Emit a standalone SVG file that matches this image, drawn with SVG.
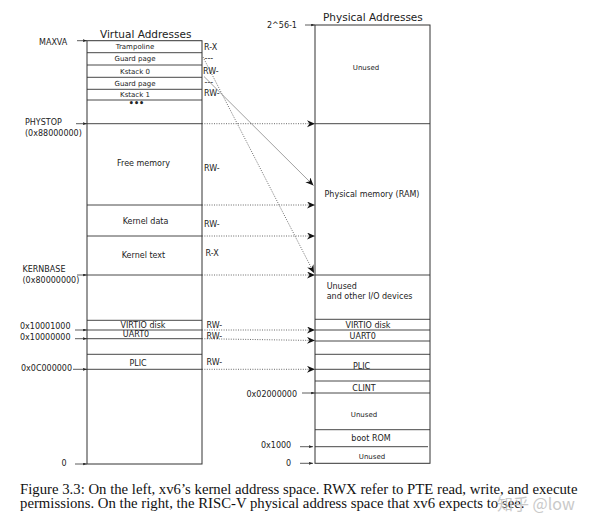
<svg xmlns="http://www.w3.org/2000/svg" width="600" height="528" viewBox="0 0 600 528">
<style>
.box{fill:#fff;stroke:#333;stroke-width:1}
.ln{stroke:#333;stroke-width:0.9}
.t{font-family:"DejaVu Sans",Verdana,sans-serif;fill:#222}
.s7{font-size:7px}
.s8{font-size:8px}
.ttl{font-size:10.5px}
.c{text-anchor:middle}
.dot{fill:none;stroke:#444;stroke-width:0.8;stroke-dasharray:1 1.4}
.lab{fill:none;stroke:#333;stroke-width:0.8}
.cap{font-family:"Liberation Serif","Times New Roman",serif;font-size:14.75px;fill:#111}
</style>
<defs>
<marker id="ah" markerWidth="9" markerHeight="8" refX="8" refY="3.5" orient="auto" markerUnits="userSpaceOnUse">
<path d="M0,0 L8,3.5 L0,7 L2.5,3.5 z" fill="#111"/>
</marker>
<marker id="sa" markerWidth="5" markerHeight="4" refX="4.5" refY="1.5" orient="auto" markerUnits="userSpaceOnUse">
<path d="M0,0 L4.5,1.5 L0,3 L1,1.5 z" fill="#222"/>
</marker>
</defs>

<g id="titles">
<text class="t ttl" x="100" y="38">Virtual Addresses</text>
<text class="t ttl" x="323" y="21">Physical Addresses</text>
</g>

<g id="virtual">
<rect class="box" x="87" y="40.7" width="115" height="423.3"/>
<line class="ln" x1="87" y1="52.7" x2="202" y2="52.7"/>
<line class="ln" x1="87" y1="65" x2="202" y2="65"/>
<line class="ln" x1="87" y1="77.3" x2="202" y2="77.3"/>
<line class="ln" x1="87" y1="89.3" x2="202" y2="89.3"/>
<line class="ln" x1="87" y1="100" x2="202" y2="100"/>
<line class="ln" x1="87" y1="123.7" x2="202" y2="123.7"/>
<line class="ln" x1="87" y1="205" x2="202" y2="205"/>
<line class="ln" x1="87" y1="236" x2="202" y2="236"/>
<line class="ln" x1="87" y1="275" x2="202" y2="275"/>
<line class="ln" x1="87" y1="320.3" x2="202" y2="320.3"/>
<line class="ln" x1="87" y1="330" x2="202" y2="330"/>
<line class="ln" x1="87" y1="338.7" x2="202" y2="338.7"/>
<line class="ln" x1="87" y1="354.3" x2="202" y2="354.3"/>
<line class="ln" x1="87" y1="369.3" x2="202" y2="369.3"/>
<text class="t s7 c" x="135" y="49.3">Trampoline</text>
<text class="t s7 c" x="135" y="61.4">Guard page</text>
<text class="t s7 c" x="135" y="73.6">Kstack 0</text>
<text class="t s7 c" x="135" y="85.8">Guard page</text>
<text class="t s7 c" x="135" y="97.3">Kstack 1</text>
<text class="t c" x="136.5" y="106" style="font-size:8px;font-weight:bold">•••</text>
<text class="t s8 c" x="143.5" y="166">Free memory</text>
<text class="t s8 c" x="145.5" y="224">Kernel data</text>
<text class="t s8 c" x="143.5" y="258">Kernel text</text>
<text class="t s8 c" x="143" y="328">VIRTIO disk</text>
<text class="t s8 c" x="136" y="337">UART0</text>
<text class="t s8 c" x="138" y="366">PLIC</text>
<text class="t s8" x="204" y="50">R-X</text>
<text class="t s8" x="204.5" y="61">---</text>
<text class="t s8" x="203" y="73.5">RW-</text>
<text class="t s8" x="204.5" y="85">---</text>
<text class="t s8" x="204" y="96">RW-</text>
<text class="t s8" x="204" y="171">RW-</text>
<text class="t s8" x="204" y="227">RW-</text>
<text class="t s8" x="205.5" y="256">R-X</text>
<text class="t s8" x="206.5" y="328">RW-</text>
<text class="t s8" x="206.5" y="339">RW-</text>
<text class="t s8" x="206.5" y="365">RW-</text>
</g>

<g id="virtual-labels">
<text class="t s8" x="39" y="44.5">MAXVA</text>
<text class="t s8" x="25" y="124.5">PHYSTOP</text>
<text class="t s8" x="25" y="135.5">(0x88000000)</text>
<text class="t s8" x="22.5" y="272">KERNBASE</text>
<text class="t s8" x="22.5" y="282.5">(0x80000000)</text>
<text class="t s8" x="20" y="329">0x10001000</text>
<text class="t s8" x="20" y="340">0x10000000</text>
<text class="t s8" x="21" y="371">0x0C000000</text>
<text class="t s8" x="61.5" y="466">0</text>
<line class="lab" x1="77" y1="40.7" x2="87" y2="40.7" marker-end="url(#sa)"/>
<line class="lab" x1="76" y1="123.7" x2="87" y2="123.7" marker-end="url(#sa)"/>
<line class="lab" x1="77" y1="275" x2="87" y2="275" marker-end="url(#sa)"/>
<line class="lab" x1="75" y1="330" x2="87" y2="330" marker-end="url(#sa)"/>
<line class="lab" x1="75" y1="338.7" x2="87" y2="338.7" marker-end="url(#sa)"/>
<line class="lab" x1="73" y1="369.3" x2="87" y2="369.3" marker-end="url(#sa)"/>
<line class="lab" x1="75" y1="464" x2="87" y2="464" marker-end="url(#sa)"/>
</g>

<g id="physical">
<rect class="box" x="315" y="25" width="115" height="438.3"/>
<line class="ln" x1="315" y1="123.7" x2="430" y2="123.7"/>
<line class="ln" x1="315" y1="275" x2="430" y2="275"/>
<line class="ln" x1="315" y1="319.3" x2="430" y2="319.3"/>
<line class="ln" x1="315" y1="330" x2="430" y2="330"/>
<line class="ln" x1="315" y1="341" x2="430" y2="341"/>
<line class="ln" x1="315" y1="354.3" x2="430" y2="354.3"/>
<line class="ln" x1="315" y1="369.3" x2="430" y2="369.3"/>
<line class="ln" x1="315" y1="381" x2="430" y2="381"/>
<line class="ln" x1="315" y1="393" x2="430" y2="393"/>
<line class="ln" x1="315" y1="429.7" x2="430" y2="429.7"/>
<line class="ln" x1="315" y1="446.7" x2="428" y2="446.7"/>
<text class="t s7 c" x="366" y="70">Unused</text>
<text class="t s8 c" x="372" y="197">Physical memory (RAM)</text>
<text class="t s8" x="326.7" y="288.5">Unused</text>
<text class="t s8" x="326.7" y="298.5">and other I/O devices</text>
<text class="t s8 c" x="368" y="328">VIRTIO disk</text>
<text class="t s8 c" x="362.7" y="339">UART0</text>
<text class="t s8 c" x="361.5" y="368.5">PLIC</text>
<text class="t s8 c" x="364" y="390.5">CLINT</text>
<text class="t s7 c" x="364" y="416.5">Unused</text>
<text class="t s8 c" x="371" y="441">boot ROM</text>
<text class="t s7 c" x="372" y="458.5">Unused</text>
</g>

<g id="physical-labels">
<text class="t s8" x="267" y="27.5">2^56-1</text>
<text class="t s8" x="246.5" y="397">0x02000000</text>
<text class="t s8" x="261" y="448">0x1000</text>
<text class="t s8" x="286" y="465.5">0</text>
<line class="lab" x1="305" y1="25" x2="315" y2="25" marker-end="url(#sa)"/>
<line class="lab" x1="302" y1="393" x2="315" y2="393" marker-end="url(#sa)"/>
<line class="lab" x1="300" y1="446.7" x2="313" y2="446.7" marker-end="url(#sa)"/>
<line class="lab" x1="300" y1="463.3" x2="313" y2="463.3" marker-end="url(#sa)"/>
</g>

<g id="connectors">
<line class="dot" x1="202" y1="123.7" x2="315" y2="123.7" marker-end="url(#ah)"/>
<line class="dot" x1="202" y1="205" x2="315" y2="205" marker-end="url(#ah)"/>
<line class="dot" x1="202" y1="236" x2="315" y2="236" marker-end="url(#ah)"/>
<line class="dot" x1="202" y1="275" x2="315" y2="275" marker-end="url(#ah)"/>
<line class="dot" x1="202" y1="330" x2="315" y2="330" marker-end="url(#ah)"/>
<line class="dot" x1="202" y1="338.7" x2="315" y2="340.5" marker-end="url(#ah)"/>
<line class="dot" x1="202" y1="369.3" x2="315" y2="369.3" marker-end="url(#ah)"/>
<line class="dot" x1="203" y1="57" x2="314" y2="273" marker-end="url(#ah)"/>
<line x1="204" y1="76.5" x2="313.5" y2="185.5" stroke="#777" stroke-width="0.7" marker-end="url(#ah)"/>
</g>

<g id="caption">
<text class="cap" x="20" y="494.3">Figure 3.3: On the left, xv6’s kernel address space. RWX refer to PTE read, write, and execute</text>
<text class="cap" x="20" y="508.3">permissions. On the right, the RISC-V physical address space that xv6 expects to see.</text>
<text x="497" y="510" style="font-family:'Noto Sans CJK SC','Noto Sans',sans-serif;font-size:16px;fill:#c4c4c4;opacity:0.9">知乎 @low</text>
</g>
</svg>
